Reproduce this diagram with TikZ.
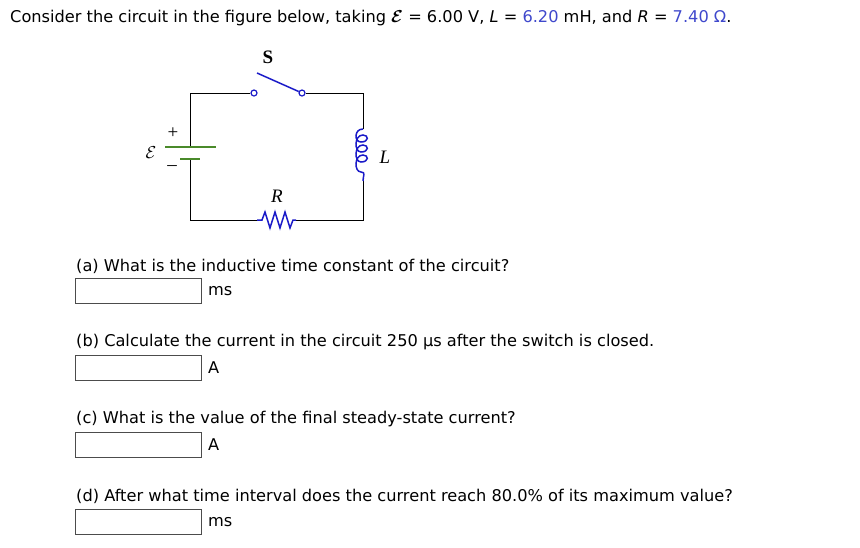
\documentclass[tikz,border=0pt]{standalone}
\usepackage{fontspec}
\setmainfont{DejaVu Sans}
\newfontfamily\serif{Liberation Serif}
\definecolor{valblue}{HTML}{3F48CC}
\definecolor{wireblue}{HTML}{1A1AC8}
\definecolor{batgreen}{HTML}{4A8A2A}
\tikzset{
  wire/.style={line width=1pt,black},
  bluewire/.style={line width=1.5pt,wireblue},
  txt/.style={anchor=west,inner sep=0pt,font=\fontsize{16.2}{19}\selectfont},
  ansbox/.style={draw=black!70,line width=0.6pt,minimum width=126pt,minimum height=25pt,inner sep=0pt,anchor=north west},
  clab/.style={inner sep=0pt,font=\serif\fontsize{19}{22}\selectfont}
}
\begin{document}
\begin{tikzpicture}[x=1pt,y=-1pt]
\useasboundingbox (0,0) rectangle (860,547);
\node[txt] (title) at (10,18) {Consider the circuit in the figure below, taking {\boldmath$\mathcal{E}$} = 6.00 V, \textit{L} = \textcolor{valblue}{6.20} mH, and \textit{R} = \textcolor{valblue}{7.40 Ω}.};
% circuit
\coordinate (tl) at (190,93);
\coordinate (tr) at (363,93);
\coordinate (bl) at (190,220);
\coordinate (br) at (363,220);
\coordinate (bt) at (190,147);
\coordinate (bb) at (190,159);
\coordinate (lt) at (363,129);
\coordinate (lb) at (363,181);
\coordinate (rl) at (257,220);
\coordinate (rr) at (296,220);
\node[draw=wireblue,circle,line width=1.2pt,inner sep=0pt,minimum size=6pt] (s1) at (254,93) {};
\node[draw=wireblue,circle,line width=1.2pt,inner sep=0pt,minimum size=6pt] (s2) at (302,93) {};
\coordinate (blade) at (257,73);
\draw[wire] (s1) -- (tl) -- (bt);
\draw[wire] (bb) -- (bl) -- (rl);
\draw[wire] (rr) -- (br) -- (lb);
\draw[wire] (lt) -- (tr) -- (s2);
\draw[bluewire] (s2) -- (blade);
\draw[batgreen,line width=2pt] (165,147) -- (216,147);
\draw[batgreen,line width=2pt] (180,159) -- (200,159);
\draw[bluewire] (rl) -- (262,220) -- (265,212) -- (270,228) -- (275,212) -- (280,228) -- (285,212) -- (290,228) -- (293,220) -- (rr);
\draw[bluewire] (lt) .. controls (354,129) and (354,142) .. (361,142)
  .. controls (369,142) and (369,135) .. (363,135)
  .. controls (354,135) and (354,152) .. (361,152)
  .. controls (369,152) and (369,145) .. (363,145)
  .. controls (354,145) and (354,162) .. (361,162)
  .. controls (369,162) and (369,155) .. (363,155)
  .. controls (354,155) and (354,172) .. (361,172)
  .. controls (366,172) and (363,176) .. (lb);
\node[clab,font=\serif\bfseries\fontsize{19}{22}\selectfont] (S) at (268,57) {S};
\node[clab] (plus) at (173,133) {+};
\node[clab] (minus) at (172,168) {–};
\node[clab] (eps) at (151,153) {$\mathcal{E}$};
\node[clab] (Llab) at (385,157) {\textit{L}};
\node[clab] (Rlab) at (277,196) {\textit{R}};
% questions
\node[txt] (qa) at (76,266) {(a) What is the inductive time constant of the circuit?};
\node[ansbox] (ba) at (75,278) {};
\node[txt] (ua) at (208,291) {ms};
\node[txt] (qb) at (76,342) {(b) Calculate the current in the circuit 250 μs after the switch is closed.};
\node[ansbox] (bb2) at (75,355) {};
\node[txt] (ub) at (208,368) {A};
\node[txt] (qc) at (76,419) {(c) What is the value of the final steady-state current?};
\node[ansbox] (bc) at (75,432) {};
\node[txt] (uc) at (208,445) {A};
\node[txt] (qd) at (76,496) {(d) After what time interval does the current reach 80.0\% of its maximum value?};
\node[ansbox] (bd) at (75,509) {};
\node[txt] (ud) at (208,522) {ms};
\end{tikzpicture}
\end{document}
